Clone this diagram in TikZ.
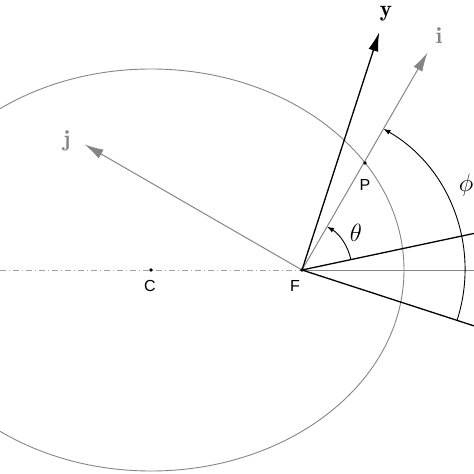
\documentclass[tikz,border=0pt]{standalone}
\usepackage{fontspec}
\newfontfamily\labfont{Liberation Sans}
\usetikzlibrary{arrows.meta,calc}
\definecolor{midgray}{HTML}{858585}
\definecolor{lightgray}{HTML}{A0A0A0}
\tikzset{
  big/.style={-{Latex[length=19pt,width=10pt]}},
  small/.style={-{Latex[length=7pt,width=5pt]}},
  graylab/.style={text=midgray,font=\fontsize{23}{26}\selectfont},
  sanslab/.style={font=\labfont\fontsize{16}{18}\selectfont},
  mathlab/.style={font=\fontsize{23}{26}\selectfont},
  dot/.style={circle,fill=black,inner sep=0pt,minimum size=3.6pt},
}
\begin{document}
\begin{tikzpicture}[x=1pt,y=1pt]
\useasboundingbox (0,0) rectangle (474,474);
\clip (0,0) rectangle (474,474);
\coordinate (F) at (302,204);
\coordinate (C) at (151,204);
\coordinate (L) at (0,204);
\coordinate (R) at (474,204);
% ellipse
\draw[midgray,line width=0.9pt] (C) ellipse [x radius=253, y radius=201];
% axis lines
\draw[lightgray,line width=0.6pt,dash pattern=on 6pt off 3pt on 1pt off 3pt] (L) -- (F);
\draw[midgray,line width=0.6pt] (F) -- (R);
% tips and ends
\coordinate (itip) at ($(F)+(60:251)$);
\coordinate (jtip) at ($(F)+(150:251)$);
\coordinate (ytip) at ($(F)+(72:250)$);
\coordinate (up) at ($(F)+(12:260)$);
\coordinate (lo) at ($(F)+(-18:260)$);
\coordinate (P) at (365,311);
% thick lines
\draw[black,line width=1.3pt] (F) -- (up);
\draw[black,line width=1.3pt] (F) -- (lo);
% vectors
\draw[big,midgray,line width=1pt] (F) -- (itip);
\draw[big,midgray,line width=1pt] (F) -- (jtip);
\draw[big,black,line width=1.3pt] (F) -- (ytip);
% angle arcs
\draw[small,black,line width=0.9pt] ($(F)+(12:50)$) arc[start angle=12,end angle=60,radius=50];
\draw[small,black,line width=0.9pt] ($(F)+(-18:163)$) arc[start angle=-18,end angle=60,radius=163];
% dots
\node[dot] (Fd) at (F) {};
\node[dot] (Cd) at (C) {};
\node[dot] (Pd) at (P) {};
% labels
\node[sanslab] (Flab) at (295,188) {F};
\node[sanslab] (Clab) at (150,188) {C};
\node[sanslab] (Plab) at (365,289) {P};
\node[graylab] (ilab) at (439,438) {$\mathbf{i}$};
\node[graylab] (jlab) at (67,333) {$\mathbf{j}$};
\node[mathlab,anchor=base,inner sep=1pt] (ylab) at (386,457) {$\mathbf{y}$};
\node[mathlab] (thlab) at (356,241) {$\theta$};
\node[mathlab] (phlab) at (466,289) {$\phi$};
\end{tikzpicture}
\end{document}
